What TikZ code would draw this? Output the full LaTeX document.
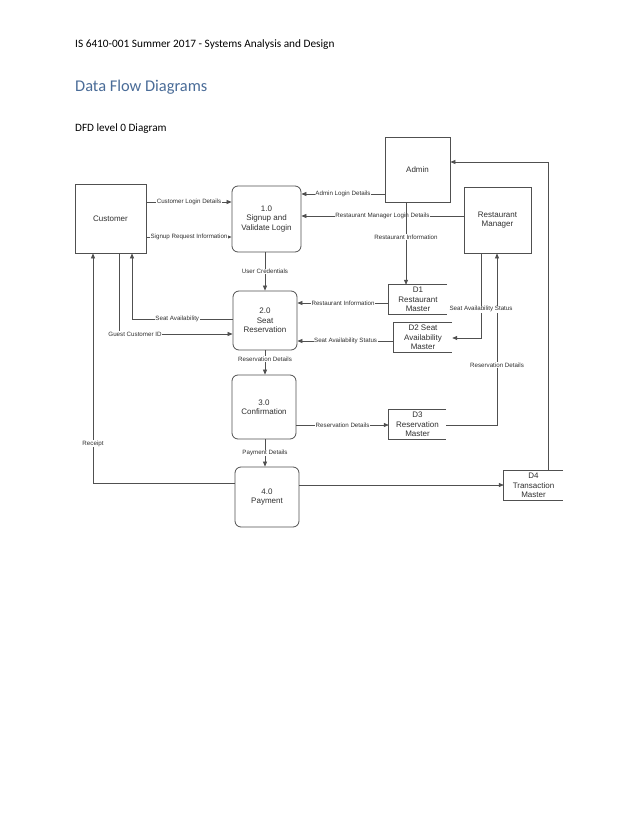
\documentclass[tikz,border=0pt]{standalone}
\usepackage{fontspec}
\setmainfont{Liberation Sans}
\newfontfamily\calib{Carlito}
\usetikzlibrary{arrows.meta,calc}
\definecolor{linec}{HTML}{505050}
\definecolor{txtc}{HTML}{303030}
\definecolor{headc}{HTML}{4A6C98}
\tikzset{
  ent/.style={draw=linec, line width=0.8pt, font=\fontsize{8}{9.5}\selectfont, text=txtc, align=center, inner sep=1pt},
  proc/.style={ent, rounded corners=6pt},
  store/.style={font=\fontsize{8}{9.5}\selectfont, text=txtc, align=center, inner sep=1pt},
  flow/.style={draw=linec, line width=0.7pt, -{Triangle[length=5pt,width=4pt]}},
  plain/.style={draw=linec, line width=0.7pt},
  lbl/.style={fill=white, font=\fontsize{6.2}{7}\selectfont, text=txtc, inner sep=0.6pt},
  storeline/.style={draw=linec, line width=0.7pt}
}
\begin{document}
\begin{tikzpicture}[x=1pt,y=-1pt]
\useasboundingbox[fill=white] (0,0) rectangle (638,826);

% header texts
\node[anchor=base west, inner sep=0, font=\calib\fontsize{11.3}{13}\selectfont] (hdr) at (75,48) {IS 6410-001 Summer 2017 - Systems Analysis and Design};
\node[anchor=base west, inner sep=0, font=\calib\fontsize{16.4}{19}\selectfont, text=headc] (ttl) at (75,92) {Data Flow Diagrams};
\node[anchor=base west, inner sep=0, font=\calib\fontsize{11.2}{13}\selectfont] (sub) at (75,132) {DFD level 0 Diagram};

% entities
\node[ent, minimum width=71pt, minimum height=69pt] (cust) at (110.5,218.5) {Customer};
\node[ent, minimum width=65pt, minimum height=65pt] (admin) at (417.5,169.5) {Admin};
\node[ent, minimum width=67pt, minimum height=66pt] (rm) at (497.5,220) {Restaurant\\Manager};

% processes
\node[proc, minimum width=69pt, minimum height=66pt] (p1) at (266.5,219) {1.0\\Signup and\\Validate Login};
\node[proc, minimum width=64pt, minimum height=59pt] (p2) at (265,320.5) {2.0\\Seat\\Reservation};
\node[proc, minimum width=64pt, minimum height=64pt] (p3) at (264,407) {3.0\\Confirmation};
\node[proc, minimum width=64pt, minimum height=60pt] (p4) at (267,497) {4.0\\Payment};

% data stores
\node[store, minimum width=58pt, minimum height=29pt] (d1) at (418,299.5) {D1\\Restaurant\\Master};
\node[store, minimum width=58pt, minimum height=29pt] (d2) at (423,337.5) {D2 Seat\\Availability\\Master};
\node[store, minimum width=57pt, minimum height=29pt] (d3) at (417.5,424.5) {D3\\Reservation\\Master};
\node[store, minimum width=59pt, minimum height=29pt] (d4) at (533.5,485.5) {D4\\Transaction\\Master};
\foreach \d in {d1,d2,d3,d4}{
  \draw[storeline] (\d.north east) -- (\d.north west) -- (\d.south west) -- (\d.south east);
}

% flows
\draw[flow] (cust.east |- 0,202) -- node[lbl] {Customer Login Details} (p1.west |- 0,202);
\draw[flow] (cust.east |- 0,237) -- node[lbl] {Signup Request Information} (p1.west |- 0,237);
\draw[flow] (admin.west |- 0,194) -- node[lbl] {Admin Login Details} (p1.east |- 0,194);
\draw[flow] (rm.west |- 0,216) -- node[lbl] {Restaurant Manager Login Details} (p1.east |- 0,216);
\draw[flow] (admin.south -| 406,0) -- node[lbl, pos=0.42] {Restaurant Information} (d1.north -| 406,0);
\draw[flow] (p1.south -| 265,0) -- node[lbl] {User Credentials} (p2.north -| 265,0);
\draw[flow] (d1.west |- 0,303) -- node[lbl] {Restaurant Information} (p2.east |- 0,303);
\draw[flow] (d2.west |- 0,341) -- node[lbl] {Seat Availability Status} (p2.east |- 0,341);

\coordinate (sa) at (132,319);
\draw[flow] (p2.west |- sa) -- node[lbl, pos=0.55] {Seat Availability} (sa) -- (sa |- cust.south);

\coordinate (gc) at (119,334);
\draw[flow] (gc |- cust.south) -- (gc) -- (p2.west |- gc);
\node[lbl] (gcl) at (135,334) {Guest Customer ID};

\coordinate (rc) at (93,483);
\draw[flow] (p4.west |- rc) -- (rc) -- node[lbl, pos=0.17] {Receipt} (rc |- cust.south);

\draw[flow] (p2.south -| 265,0) -- node[lbl, pos=0.35] {Reservation Details} (p3.north -| 265,0);
\draw[flow] (p3.south -| 265,0) -- node[lbl, pos=0.5] {Payment Details} (p4.north -| 265,0);
\draw[flow] (p3.east |- 0,425) -- node[lbl] {Reservation Details} (d3.west |- 0,425);

\coordinate (rd) at (497,425);
\draw[flow] (d3.east |- rd) -- (rd) -- node[lbl, pos=0.35] {Reservation Details} (rd |- rm.south);

\coordinate (ss) at (481,338);
\draw[flow] (ss |- rm.south) -- node[lbl, pos=0.66] {Seat Availability Status} (ss) -- (d2.east |- ss);

\draw[flow] (p4.east |- 0,485) -- (d4.west |- 0,485);

\coordinate (ta) at (548,162);
\draw[flow] (d4.north -| ta) -- (ta) -- (admin.east |- ta);
\end{tikzpicture}
\end{document}
